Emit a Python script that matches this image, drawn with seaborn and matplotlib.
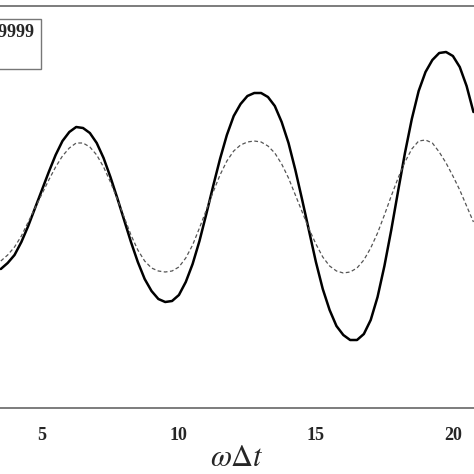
import matplotlib
matplotlib.use("Agg")
import numpy as np
import pandas as pd
import seaborn as sns
import matplotlib.pyplot as plt

# --- data (y in arbitrary units, from pixel rows) ---
x_vals = np.arange(3.5, 20.76, 0.25)
solid_px = [269, 263, 255, 242, 226, 208, 190, 172, 155, 141, 132, 127, 128, 133,
            143, 158, 177, 198, 220, 242, 262, 279, 291, 299, 302, 301, 295, 282,
            264, 241, 214, 186, 159, 135, 116, 104, 96, 93, 93, 97, 106, 122,
            143, 170, 200, 231, 262, 289, 310, 326, 335, 340, 340, 334, 320, 297,
            266, 230, 191, 153, 119, 91, 72, 60, 53, 52, 56, 67, 86, 112]
dashed_px = [261, 255, 247, 236, 222, 208, 194, 180, 167, 156, 148, 143, 143, 147,
             155, 167, 182, 199, 217, 235, 250, 261, 268, 271, 272, 271, 267, 258,
             245, 228, 210, 192, 175, 161, 151, 145, 142, 141, 142, 146, 153, 164,
             178, 195, 212, 229, 244, 257, 266, 271, 273, 272, 268, 260, 248, 233,
             215, 196, 178, 162, 149, 141, 140, 143, 152, 163, 176, 190, 206, 222]
solid_y = [(408 - p) / 100 for p in solid_px]
dashed_y = [(408 - p) / 100 for p in dashed_px]

df = pd.DataFrame({"x": x_vals, "solid": solid_y, "dashed": dashed_y})

sns.set_style("white")
plt.rcParams["font.family"] = ["Liberation Serif", "DejaVu Serif"]
plt.rcParams["mathtext.fontset"] = "stix"

fig = plt.figure(figsize=(4.74, 4.74), dpi=100)
ax = fig.add_axes([0.0, 66 / 474, 1.0, 402 / 474])

sns.lineplot(data=df, x="x", y="solid", ax=ax, color="black", lw=1.8,
             label=r"$\varepsilon$=0.99999")
sns.lineplot(data=df, x="x", y="dashed", ax=ax, color="#555555", lw=0.9,
             linestyle=(0, (3, 2)), label=r"$\varepsilon$=0")

ax.set_xlim(3.47, 20.77)
ax.set_ylim(0, 4.02)
ax.set_xticks([5, 10, 15, 20])
ax.set_yticks([])
for lab in ax.get_xticklabels():
    lab.set_fontweight("bold")
ax.tick_params(axis="x", direction="in", length=4, labelsize=13, pad=14, color="#555555")
for s in ["left", "right"]:
    ax.spines[s].set_visible(False)
for s in ["top", "bottom"]:
    ax.spines[s].set_color("#666666")
    ax.spines[s].set_linewidth(1.2)
ax.set_xlabel(r"$\omega\Delta t$", fontsize=22, labelpad=0)
ax.set_ylabel("")

leg = ax.legend(loc="upper right", bbox_to_anchor=(0.105, 0.99), frameon=True,
                fancybox=False, edgecolor="#555555", prop={"weight": "bold", "size": 13},
                handlelength=2.0, borderpad=0.3, labelspacing=0.3)
leg.get_frame().set_linewidth(1.0)

fig.savefig("out.png", dpi=100)
